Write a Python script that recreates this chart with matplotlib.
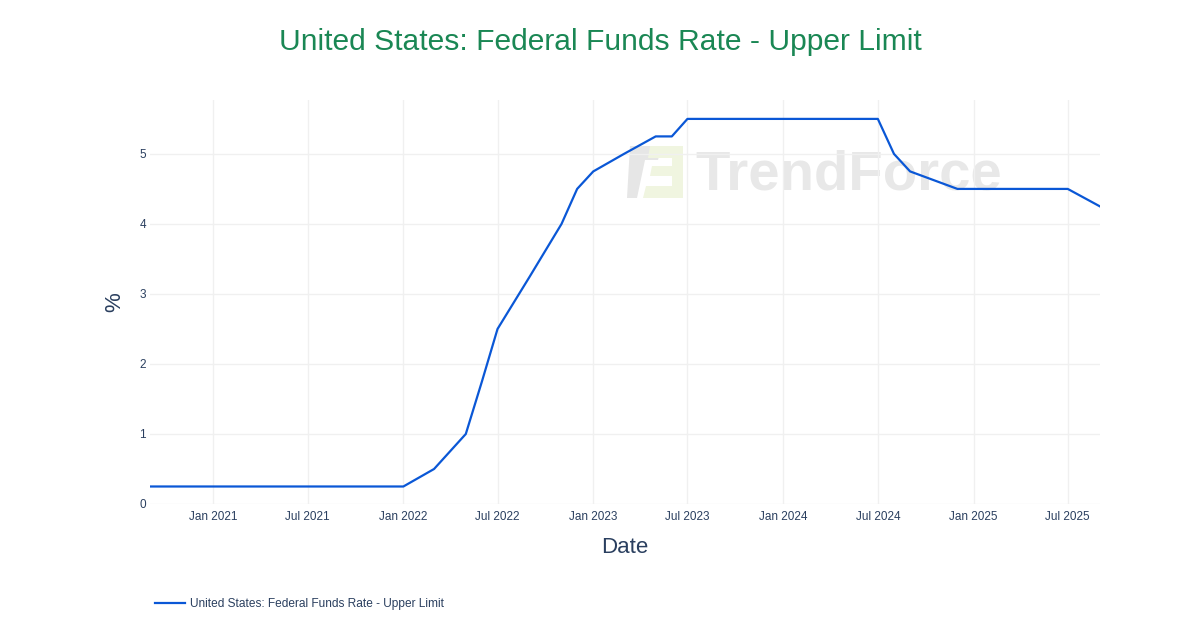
import matplotlib.pyplot as plt
import matplotlib.dates as mdates
from matplotlib.patches import Polygon
import numpy as np
import pandas as pd

plt.rcParams['font.family'] = ['Liberation Sans', 'DejaVu Sans']

# data (month starts)
dates = ["2020-09-01", "2022-01-01", "2022-03-01", "2022-05-01", "2022-06-01",
         "2022-07-01", "2022-09-01", "2022-11-01", "2022-12-01", "2023-01-01",
         "2023-03-01", "2023-05-01", "2023-06-01", "2023-07-01", "2024-07-01",
         "2024-08-01", "2024-09-01", "2024-12-01", "2025-07-01", "2025-09-01"]
rate = [0.25, 0.25, 0.5, 1.0, 1.75,
        2.5, 3.25, 4.0, 4.5, 4.75,
        5.0, 5.25, 5.25, 5.5, 5.5,
        5.0, 4.75, 4.5, 4.5, 4.25]
tick_dates = ["2021-01-01", "2021-07-01", "2022-01-01", "2022-07-01", "2023-01-01",
              "2023-07-01", "2024-01-01", "2024-07-01", "2025-01-01", "2025-07-01"]
tick_labels = ["Jan 2021", "Jul 2021", "Jan 2022", "Jul 2022", "Jan 2023",
               "Jul 2023", "Jan 2024", "Jul 2024", "Jan 2025", "Jul 2025"]
y_ticks = [0, 1, 2, 3, 4, 5]

title = "United States: Federal Funds Rate - Upper Limit"
series_name = "United States: Federal Funds Rate - Upper Limit"

W, H, dpi = 1200, 630, 100
fig = plt.figure(figsize=(W / dpi, H / dpi), dpi=dpi)
ax = fig.add_axes([150 / W, 1 - 504 / H, 950 / W, 404 / H])

x = pd.to_datetime(dates)
text_col = '#2a3f5f'
grid_col = '#f0f0f0'

ax.plot(x, rate, color='#0a57d6', lw=1.6, label=series_name, zorder=3)

ax.set_xlim(pd.Timestamp("2020-09-01"), pd.Timestamp("2025-09-01"))
ax.set_ylim(0, 5.77)

ax.set_xticks(pd.to_datetime(tick_dates))
ax.set_xticklabels(tick_labels)
ax.set_yticks(y_ticks)
ax.set_yticklabels([str(v) for v in y_ticks])
ax.grid(True, color=grid_col, lw=1, zorder=0)
ax.tick_params(axis='x', length=0, pad=5, labelsize=8.5, labelcolor=text_col)
ax.tick_params(axis='y', length=0, pad=3, labelsize=8.5, labelcolor=text_col)
for s in ax.spines.values():
    s.set_visible(False)

ax.set_xlabel("Date", fontsize=16, color=text_col, labelpad=10)
ax.set_ylabel("%", fontsize=16, color=text_col, labelpad=10)

fig.text(0.5, 1 - 42 / H, title, ha='center', va='center',
         fontsize=21.6, color='#1a8754')

# watermark, kept behind the line
ax.text(695 / W, 1 - 176 / H, "TrendForce", ha='left', va='center',
        transform=fig.transFigure, fontsize=40.5, fontweight='bold',
        color='#e8e8e8', zorder=1)
px = lambda pts: [(a / W, 1 - b / H) for a, b in pts]
ax.add_patch(Polygon(px([(630, 146), (662, 146), (658, 160), (645, 160),
                         (637, 198), (627, 198)]),
                     closed=True, transform=fig.transFigure, clip_on=False,
                     facecolor='#e6e6e6', edgecolor='none', zorder=1))
ax.add_patch(Polygon(px([(650, 146), (683, 146), (683, 198), (643, 198),
                         (646, 186), (672, 186), (672, 176), (650, 176),
                         (652, 166), (672, 166), (672, 158), (648, 158)]),
                     closed=True, transform=fig.transFigure, clip_on=False,
                     facecolor='#f0f5e0', edgecolor='none', zorder=1))

leg = fig.legend(loc='center left', bbox_to_anchor=(155 / W, 1 - 604 / H),
                 frameon=False, fontsize=8.6, handlelength=2.5,
                 handletextpad=0.4, borderaxespad=0, borderpad=0)
for t in leg.get_texts():
    t.set_color(text_col)

fig.savefig("out.png", dpi=dpi, facecolor='white')
